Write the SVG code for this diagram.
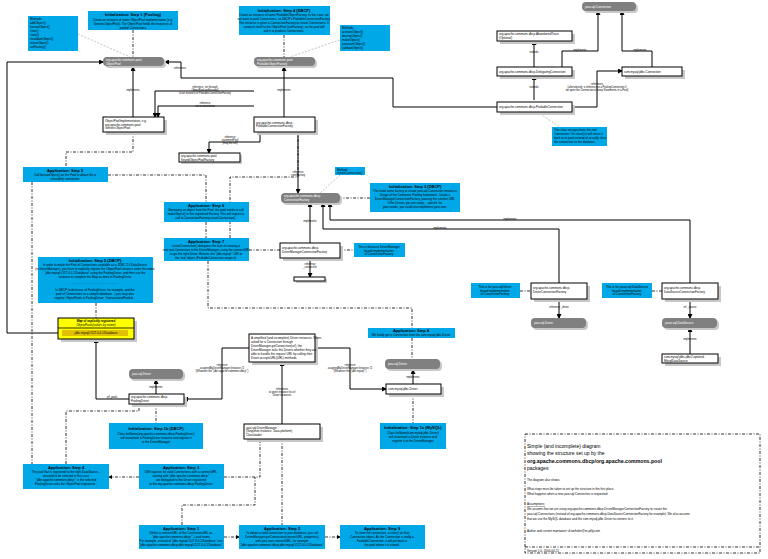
<svg xmlns="http://www.w3.org/2000/svg" width="768" height="559" viewBox="0 0 768 559">
<style>
text{font-family:"Liberation Sans",Arial,sans-serif;fill:#000}
.c{fill:#00a8e8}
.g{fill:#808080;stroke:none}
.gs{fill:#c8c8c8}
.b{fill:#fff;stroke:#000;stroke-width:1}
.ln{fill:none;stroke:#000;stroke-width:1}
.d{fill:none;stroke:#000;stroke-width:0.8;stroke-dasharray:3,1.5,1,1.5}
.n{fill:none;stroke:#888;stroke-width:0.5;stroke-dasharray:2,1.5}
.t{font-size:3px}
.h{font-size:4px;font-weight:bold}
.w{font-size:3px;fill:#fff}
.l{font-size:2.6px;text-anchor:middle}
.m{text-anchor:middle}
</style>
<defs>
<marker id="a" markerWidth="5" markerHeight="5" refX="4" refY="2.5" orient="auto"><path d="M0,0L5,2.5L0,5z" fill="#000"/></marker>
</defs>
<rect width="768" height="559" fill="#fff"/>
<g id="connectors">
<path class="ln" d="M7,333V62H103" marker-end="url(#a)"/>
<path class="ln" d="M7,333H58"/>
<path class="ln" d="M133,117V67" marker-end="url(#a)"/>
<path class="ln" d="M284,117V67" marker-end="url(#a)"/>
<path class="ln" d="M497,107H393V78H181V62H165" marker-end="url(#a)"/>
<path class="ln" d="M254,91H155V117" marker-end="url(#a)"/>
<path class="ln" d="M254,106H158V117" marker-end="url(#a)"/>
<path class="ln" d="M260,132V142H209V153" marker-end="url(#a)"/>
<path class="ln" d="M298,132V193" marker-end="url(#a)"/>
<path class="ln" d="M534,100V76" marker-end="url(#a)"/>
<path class="ln" d="M534,67V41" marker-end="url(#a)"/>
<path class="ln" d="M562,67V51H598V11" marker-end="url(#a)"/>
<path class="ln" d="M652,67V51H622V11" marker-end="url(#a)"/>
<path class="ln" d="M572,107H597V71H622" marker-end="url(#a)"/>
<path class="ln" d="M310,243V203" marker-end="url(#a)"/>
<path class="ln" d="M310,258V277" marker-end="url(#a)"/>
<path class="ln" d="M690,283V220H330V203" marker-end="url(#a)"/>
<path class="ln" d="M559,283V229H323V203" marker-end="url(#a)"/>
<path class="ln" d="M559,299V318" marker-end="url(#a)"/>
<path class="ln" d="M690,299V318" marker-end="url(#a)"/>
<path class="ln" d="M690,354V328" marker-end="url(#a)"/>
<path class="ln" d="M156,394V380" marker-end="url(#a)"/>
<path class="ln" d="M413,384V370" marker-end="url(#a)"/>
<path class="ln" d="M222,369V348H249"/>
<path class="ln" d="M222,369V399H184" marker-end="url(#a)"/>
<path class="ln" d="M350,369V348H315"/>
<path class="ln" d="M350,369V389H386" marker-end="url(#a)"/>
<path class="ln" d="M282,424V362" marker-end="url(#a)"/>
<path class="ln" d="M129,399H96V339" marker-end="url(#a)"/>
<path class="n" d="M78,34L130,57"/>
<path class="n" d="M340,40L290,57"/>
<path class="n" d="M340,175L320,193"/>
<path class="n" d="M537,112L560,127"/>
<path class="d" d="M133,30V57"/>
<path class="d" d="M284,35V57"/>
<path class="d" d="M133,132V152H66V167"/>
<path class="d" d="M108,175H206V202"/>
<path class="d" d="M298,132V177H230V202"/>
<path class="d" d="M206,222V238"/>
<path class="d" d="M249,250H280"/>
<path class="d" d="M340,250H354"/>
<path class="d" d="M370,198H340"/>
<path class="d" d="M230,238V220"/>
<path class="d" d="M208,261V308H412V328"/>
<path class="d" d="M412,338V359"/>
<path class="d" d="M520,291H531"/>
<path class="d" d="M652,291H662"/>
<path class="d" d="M96,303V318"/>
<path class="d" d="M32,182V464"/>
<path class="d" d="M156,404V423"/>
<path class="d" d="M413,394V423"/>
<path class="d" d="M139,477H109" marker-end="url(#a)"/>
<path class="d" d="M66,464V411H139V404"/>
<path class="d" d="M224,477H260V439"/>
<path class="d" d="M282,439V525"/>
<path class="d" d="M224,537H239" marker-end="url(#a)"/>
<path class="d" d="M325,537H340" marker-end="url(#a)"/>
<path class="d" d="M182,525V505H255V477"/>
</g>
<g id="methods1"><rect class="c" x="28" y="16" width="50" height="35"/><text class="t" x="30" y="20">Methods:</text><text class="t" x="30" y="24">addObject()</text><text class="t" x="30" y="28">borrowObject()</text><text class="t" x="30" y="32">clear()</text><text class="t" x="30" y="36">close()</text><text class="t" x="30" y="40">invalidateObject()</text><text class="t" x="30" y="44">returnObject()</text><text class="t" x="30" y="48">setFactory()</text></g>
<g id="init1"><rect class="c" x="88" y="11" width="90" height="19"/><text class="h m" x="133" y="16">Initialization: Step 1 (Pooling)</text><text class="t m" x="133" y="21">Create an instance of some ObjectPool implementation (e.g.</text><text class="t m" x="133" y="25">GenericObjectPool). The ObjectPool holds the instances of</text><text class="t m" x="133" y="29">pooled Connections</text></g>
<g id="objectpool"><rect class="gs" x="105" y="59" width="61" height="9" rx="4"/><rect class="g" x="103" y="57" width="61" height="9" rx="4"/><text class="w" x="106" y="61">org.apache.commons.pool.</text><text class="w" x="106" y="64.5">ObjectPool</text></g>
<g id="init4"><rect class="c" x="239" y="6" width="91" height="29"/><text class="h m" x="284" y="12">Initialization: Step 4 (DBCP)</text><text class="t m" x="284" y="16">Create an instance of some PoolableObjectFactory. In this case, we</text><text class="t m" x="284" y="20">are want to pool Connections, so DBCP's PoolableConnectionFactory.</text><text class="t m" x="284" y="24">The instance is given a ConnectionFactory to create Connections. It</text><text class="t m" x="284" y="28">connects itself to the ObjectPool (setFactory), so the pool will</text><text class="t m" x="284" y="32">ask it to produce Connections.</text></g>
<g id="methods2"><rect class="c" x="340" y="25" width="50" height="26"/><text class="t" x="342" y="29">Methods:</text><text class="t" x="342" y="33">activateObject()</text><text class="t" x="342" y="37">destroyObject()</text><text class="t" x="342" y="41">makeObject()</text><text class="t" x="342" y="45">passivateObject()</text><text class="t" x="342" y="49">validateObject()</text></g>
<g id="poolableobjectfactory"><rect class="gs" x="256" y="59" width="61" height="9" rx="4"/><rect class="g" x="254" y="57" width="61" height="9" rx="4"/><text class="w" x="257" y="61">org.apache.commons.pool.</text><text class="w" x="257" y="64.5">PoolableObjectFactory</text></g>
<g id="genericobjectpool"><rect class="gs" x="106" y="120" width="61" height="15"/><rect class="b" x="103" y="117" width="61" height="15"/><text class="t" x="105" y="122">ObjectPoolImplementation, e.g.</text><text class="t" x="105" y="125.5">org.apache.commons.pool.</text><text class="t" x="105" y="129">GenericObjectPool</text></g>
<g id="poolableconnectionfactory"><rect class="gs" x="257" y="120" width="61" height="15"/><rect class="b" x="254" y="117" width="61" height="15"/><text class="t" x="256" y="123.5">org.apache.commons.dbcp.</text><text class="t" x="256" y="127">PoolableConnectionFactory</text></g>
<g id="keyedfactory"><rect class="gs" x="181" y="155" width="61" height="9"/><rect class="b" x="179" y="153" width="61" height="9"/><text class="t" x="181" y="157">org.apache.commons.pool.</text><text class="t" x="181" y="160.5">KeyedObjectPoolFactory</text></g>
<g id="labels"><text class="l" x="133" y="91">implements</text><text class="l" x="284" y="91">implements</text><text class="l" x="180" y="69">references</text><text class="l" x="205" y="88">reference, set through</text><text class="l" x="205" y="91">ObjectPool.setFactory()</text><text class="l" x="205" y="94">to an instance of PoolableConnectionFactory</text><text class="l" x="205" y="104">reference</text><text class="l" x="205" y="107">set in constructor</text><text class="l" x="230" y="138">reference</text><text class="l" x="230" y="141">statementPool</text><text class="l" x="230" y="144">(may be null)</text><text class="l" x="298" y="173">reference</text><text class="l" x="298" y="176">connFactory</text><text class="l" x="534" y="53">extends</text><text class="l" x="534" y="88">extends</text><text class="l" x="580" y="51">implements</text><text class="l" x="640" y="51">implements</text><text class="l" x="597" y="85">references</text><text class="l" x="597" y="88">(alternatively: a reference to a PoolingConnection if</text><text class="l" x="597" y="91">we open the Connection to keep Statements in a Pool)</text><text class="l" x="310" y="222">implements</text><text class="l" x="440" y="229">implements</text><text class="l" x="510" y="220">implements</text><text class="l" x="310" y="265">reference</text><text class="l" x="310" y="268">_connectUri</text><text class="l" x="559" y="308">reference _driver</text><text class="l" x="690" y="308">ref _source</text><text class="l" x="690" y="340">implements</text><text class="l" x="156" y="388">implements</text><text class="l" x="413" y="378">implements</text><text class="l" x="112" y="398">ref_pools</text><text class="l" x="222" y="366">reference</text><text class="l" x="222" y="369">assignedByDriverManager.Instance #1</text><text class="l" x="222" y="372">(Whatever the "jdbc:apache:commons:dbcp:")</text><text class="l" x="350" y="366">reference</text><text class="l" x="350" y="369">assignedByDriverManager.Instance #2</text><text class="l" x="350" y="372">(Whatever the "jdbc:mysql:")</text><text class="l" x="282" y="390">references</text><text class="l" x="282" y="393">to given instance list of</text><text class="l" x="282" y="396">Driver instances</text></g>
<g id="connection"><rect class="gs" x="584" y="4" width="54" height="9" rx="4"/><rect class="g" x="582" y="2" width="54" height="9" rx="4"/><text class="w" x="585" y="7.5">java.sql.Connection</text></g>
<g id="abandonedtrace"><rect class="gs" x="500" y="34" width="75" height="10"/><rect class="b" x="497" y="31" width="75" height="10"/><text class="t" x="499" y="35">org.apache.commons.dbcp.AbandonedTrace</text><text class="t" x="499" y="38.5">(Optional)</text></g>
<g id="delegatingconnection"><rect class="gs" x="500" y="70" width="75" height="9"/><rect class="b" x="497" y="67" width="75" height="9"/><text class="t" x="499" y="72.5">org.apache.commons.dbcp.DelegatingConnection</text></g>
<g id="poolableconnection"><rect class="gs" x="500" y="105" width="75" height="10"/><rect class="b" x="497" y="102" width="75" height="10"/><text class="t" x="499" y="107.5">org.apache.commons.dbcp.PoolableConnection</text></g>
<g id="mysqlconnection"><rect class="gs" x="625" y="70" width="60" height="9"/><rect class="b" x="622" y="67" width="60" height="9"/><text class="t" x="624" y="72.5">com.mysql.jdbc.Connection</text></g>
<g id="note1"><rect class="c" x="552" y="127" width="55" height="19"/><text class="t" x="554" y="131">This class encapsulates the real</text><text class="t" x="554" y="135">Connection. On close() it will return it</text><text class="t" x="554" y="139">back to its pool instead of actually close</text><text class="t" x="554" y="143">the connection to the database</text></g>
<g id="appstep1a"><rect class="c" x="23" y="167" width="85" height="15"/><text class="h m" x="65" y="172">Application: Step 5</text><text class="t m" x="65" y="176">Call borrowObject() on the Pool to obtain the a</text><text class="t m" x="65" y="180">(reusable) connection</text></g>
<g id="methods3"><rect class="c" x="335" y="167" width="30" height="8"/><text class="t" x="337" y="170.5">Method:</text><text class="t" x="337" y="174">createConnection()</text></g>
<g id="connectionfactory"><rect class="gs" x="283" y="195" width="59" height="10" rx="4"/><rect class="g" x="281" y="193" width="59" height="10" rx="4"/><text class="w" x="284" y="197">org.apache.commons.dbcp.</text><text class="w" x="284" y="201">ConnectionFactory</text></g>
<g id="init3"><rect class="c" x="370" y="183" width="90" height="29"/><text class="h m" x="415" y="188">Initialization: Step 3 (DBCP)</text><text class="t m" x="415" y="192">The initial some factory to create java.sql.Connection instances</text><text class="t m" x="415" y="196">Usage of the Commons Pooling framework. Create a</text><text class="t m" x="415" y="200">DriverManagerConnectionFactory, passing the connect URI.</text><text class="t m" x="415" y="204">If the Drivers you are using ... specific for</text><text class="t m" x="415" y="208">your needs, you could also implement your own.</text></g>
<g id="appstep6"><rect class="c" x="164" y="202" width="85" height="20"/><text class="h m" x="206" y="207">Application: Step 6</text><text class="t m" x="206" y="211">Borrowing an object from the Pool, the pool needs to call</text><text class="t m" x="206" y="215">makeObject() in the registered Factory. This will request a</text><text class="t m" x="206" y="219">call to ConnectionFactory.createConnection().</text></g>
<g id="appstep7"><rect class="c" x="164" y="238" width="85" height="23"/><text class="h m" x="206" y="243">Application: Step 7</text><text class="t m" x="206" y="247">createConnection() delegates the task of creating a</text><text class="t m" x="206" y="251">new real Connection to the DriverManager, using the connectURI</text><text class="t m" x="206" y="255">to get the right Driver. Returns the "jdbc:mysql:" URI to</text><text class="t m" x="206" y="259">the 'real' object (PoolableConnection wraps it).</text></g>
<g id="dmconnectionfactory"><rect class="gs" x="283" y="246" width="60" height="15"/><rect class="b" x="280" y="243" width="60" height="15"/><text class="t" x="282" y="249">org.apache.commons.dbcp.</text><text class="t" x="282" y="252.5">DriverManagerConnectionFactory</text></g>
<g id="note2"><rect class="c" x="354" y="243" width="51" height="14"/><text class="t m" x="379" y="248">This is because DriverManager</text><text class="t m" x="379" y="251.5">based implementation</text><text class="t m" x="379" y="255">of ConnectionFactory</text></g>
<g id="uribox"><rect class="gs" x="296" y="279" width="31" height="4"/><rect class="b" x="294" y="277" width="31" height="4"/></g>
<g id="init5"><rect class="c" x="38" y="257" width="115" height="46"/><text class="h m" x="95" y="262">Initialization: Step 5 (DBCP)</text><text class="t m" x="95" y="266">In order to make the Pool of Connections available as a JDBC 2.0 DataSource</text><text class="t m" x="95" y="270">(in DriverManager), you have to explicitly register the ObjectPool instance under the name</text><text class="t m" x="95" y="274">"jdbc:mysql://127.0.0.1/Database" using the PoolingDriver, and then use the</text><text class="t m" x="95" y="278">instance to complete the Map as done in PoolingDriver</text><text class="t m" x="95" y="284">- - - - - - - - - - - - - - - - - - - - - - - - - -</text><text class="t m" x="95" y="291">In DBCP (subclasses of PoolingDriver, for example, and the</text><text class="t m" x="95" y="295">pool of Connections to a sample database...) you may also</text><text class="t m" x="95" y="299">register ObjectPools in PoolingDriver: TransactionalPooled...</text></g>
<g id="mapbox"><rect class="gs" x="61" y="321" width="76" height="21"/><rect x="58" y="318" width="76" height="21" fill="#ffff00" stroke="#000" stroke-width="1"/><line x1="58" y1="328" x2="134" y2="328" stroke="#000" stroke-width="0.8"/><rect x="62" y="330" width="66" height="6" fill="#e0c000"/><text class="t m" x="96" y="322" font-style="italic" font-weight="bold">Map of explicitly registered</text><text class="t m" x="96" y="325.5" font-style="italic">ObjectPools(values by name)</text><text class="t m" x="96" y="334">jdbc:mysql://127.0.0.1/Database</text></g>
<g id="appstep8"><rect class="c" x="368" y="328" width="87" height="10"/><text class="h m" x="411" y="332">Application: Step 8</text><text class="t m" x="411" y="336">We finally get a Connection from the com.mysql.jdbc.Driver</text></g>
<g id="driverconnectionfactory"><rect class="gs" x="534" y="286" width="56" height="16"/><rect class="b" x="531" y="283" width="56" height="16"/><text class="t" x="533" y="289">org.apache.commons.dbcp.</text><text class="t" x="533" y="292.5">DriverConnectionFactory</text></g>
<g id="note3"><rect class="c" x="471" y="283" width="49" height="15"/><text class="t m" x="495" y="288">This is for java.sql.Driver</text><text class="t m" x="495" y="291.5">based implementation</text><text class="t m" x="495" y="295">of ConnectionFactory</text></g>
<g id="driver1"><rect class="gs" x="533" y="320" width="55" height="10" rx="4"/><rect class="g" x="531" y="318" width="55" height="10" rx="4"/><text class="w" x="534" y="324">java.sql.Driver</text></g>
<g id="dsconnectionfactory"><rect class="gs" x="665" y="286" width="56" height="16"/><rect class="b" x="662" y="283" width="56" height="16"/><text class="t" x="664" y="289">org.apache.commons.dbcp.</text><text class="t" x="664" y="292.5">DataSourceConnectionFactory</text></g>
<g id="note4"><rect class="c" x="602" y="283" width="50" height="15"/><text class="t m" x="627" y="288">This is for javax.sql.DataSource</text><text class="t m" x="627" y="291.5">based implementation</text><text class="t m" x="627" y="295">of ConnectionFactory</text></g>
<g id="datasource"><rect class="gs" x="664" y="320" width="55" height="10" rx="4"/><rect class="g" x="662" y="318" width="55" height="10" rx="4"/><text class="w" x="665" y="324">javax.sql.DataSource</text></g>
<g id="mysqldatasource"><rect class="gs" x="665" y="357" width="56" height="9"/><rect class="b" x="662" y="354" width="56" height="9"/><text class="t" x="664" y="358">com.mysql.jdbc.jdbc2.optional.</text><text class="t" x="664" y="361.5">MysqlDataSource</text></g>
<g id="dmnote"><rect class="gs" x="252" y="337" width="66" height="28"/><rect class="b" x="249" y="334" width="66" height="28"/><text class="t" x="251" y="339">A simplified (and incomplete) Driver instances. When</text><text class="t" x="251" y="343">asked for a Connection through</text><text class="t" x="251" y="347">DriverManager.getConnection(url), the</text><text class="t" x="251" y="351">DriverManager asks the Drivers whether they are</text><text class="t" x="251" y="355">able to handle the request URL by calling their</text><text class="t" x="251" y="359">Driver.acceptsURL(URL) methods.</text></g>
<g id="driver2"><rect class="gs" x="387" y="361" width="55" height="10" rx="4"/><rect class="g" x="385" y="359" width="55" height="10" rx="4"/><text class="w" x="388" y="365">java.sql.Driver</text></g>
<g id="mysqldriver"><rect class="gs" x="389" y="387" width="55" height="10"/><rect class="b" x="386" y="384" width="55" height="10"/><text class="t" x="388" y="390">com.mysql.jdbc.Driver</text></g>
<g id="init1c"><rect class="c" x="380" y="423" width="66" height="26"/><text class="h m" x="413" y="429">Initialization: Step 1c (MySQL)</text><text class="t m" x="413" y="434">Class.forName(com.mysql.jdbc.Driver)</text><text class="t m" x="413" y="438">will instantiate a Driver instance and</text><text class="t m" x="413" y="442">register it at the DriverManager</text></g>
<g id="driver3"><rect class="gs" x="131" y="371" width="54" height="10" rx="4"/><rect class="g" x="129" y="369" width="54" height="10" rx="4"/><text class="w" x="132" y="375">java.sql.Driver</text></g>
<g id="poolingdriver"><rect class="gs" x="132" y="397" width="55" height="10"/><rect class="b" x="129" y="394" width="55" height="10"/><text class="t" x="131" y="398">org.apache.commons.dbcp.</text><text class="t" x="131" y="401.5">PoolingDriver</text></g>
<g id="init1b"><rect class="c" x="109" y="423" width="94" height="26"/><text class="h m" x="156" y="430">Initialization: Step 1b (DBCP)</text><text class="t m" x="156" y="435">Class.forName(org.apache.commons.dbcp.PoolingDriver)</text><text class="t m" x="156" y="439">will instantiate a PoolingDriver instance and register it</text><text class="t m" x="156" y="443">at the DriverManager</text></g>
<g id="drivermanager"><rect class="gs" x="247" y="427" width="76" height="15"/><rect class="b" x="244" y="424" width="76" height="15"/><text class="t" x="246" y="428.5">java.sql.DriverManager</text><text class="t" x="246" y="432">(Singleton instance, Java-platform)</text><text class="t" x="246" y="435.5">Classloader</text></g>
<g id="appstep4"><rect class="c" x="23" y="464" width="86" height="25"/><text class="h m" x="66" y="469">Application: Step 4</text><text class="t m" x="66" y="473">The pool that is registered to the right DataSource...</text><text class="t m" x="66" y="477">ensured to be selected in this case</text><text class="t m" x="66" y="481">"jdbc:apache:commons:dbcp:" is the selected</text><text class="t m" x="66" y="485">PoolingDriver asks the ObjectPool registered...</text></g>
<g id="appstep3"><rect class="c" x="139" y="464" width="85" height="25"/><text class="h m" x="181" y="469">Application: Step 3</text><text class="t m" x="181" y="473">DM requests for valid Connections with a connectURL</text><text class="t m" x="181" y="477">starting with "jdbc:apache:commons:dbcp:"</text><text class="t m" x="181" y="481">are delegated to the Driver registered</text><text class="t m" x="181" y="485">to the org.apache.commons.dbcp.PoolingDriver</text></g>
<g id="appstep1"><rect class="c" x="139" y="525" width="85" height="24"/><text class="h m" x="181" y="530">Application: Step 1</text><text class="t m" x="181" y="534">Define a connectURL of the ConnectionURL as</text><text class="t m" x="181" y="538">"jdbc:apache:commons:dbcp:" + pool name</text><text class="t m" x="181" y="542">For example, instead of "jdbc:mysql://127.0.0.1/Database" use</text><text class="t m" x="181" y="546">"jdbc:apache:commons:dbcp:jdbc:mysql://127.0.0.1/Database"</text></g>
<g id="appstep2"><rect class="c" x="239" y="525" width="86" height="24"/><text class="h m" x="282" y="530">Application: Step 2</text><text class="t m" x="282" y="534">To obtain a valid connection to your database, you call</text><text class="t m" x="282" y="538">DriverManager.getConnection(connectURL, properties)</text><text class="t m" x="282" y="542">with your own connectURL, for example</text><text class="t m" x="282" y="546">"jdbc:apache:commons:dbcp:jdbc:mysql://127.0.0.1/Database"</text></g>
<g id="appstep5"><rect class="c" x="340" y="525" width="85" height="24"/><text class="h m" x="382" y="530">Application: Step 9</text><text class="t m" x="382" y="534">To close the connection, a close() on that</text><text class="t m" x="382" y="538">Connection object. As the Connection is really a</text><text class="t m" x="382" y="542">PoolableConnection, it will put back in</text><text class="t m" x="382" y="546">the pool where it is stored.</text></g>
<g id="legend"><rect x="525" y="434" width="235" height="119" fill="#fff" stroke="#000" stroke-width="0.8" stroke-dasharray="3,1.5,1,1.5"/><line x1="525" y1="547" x2="760" y2="547" stroke="#000" stroke-width="0.8" stroke-dasharray="3,1.5,1,1.5"/><text x="527" y="448" font-size="5">Simple (and incomplete) diagram</text><text x="527" y="455" font-size="5">showing the structure set up by the</text><text x="527" y="463" font-size="5.2" font-weight="bold">org.apache.commons.dbcp/org.apache.commons.pool</text><text x="527" y="470" font-size="5">packages</text><text class="t" x="527" y="481">The diagram also shows:</text><text class="t" x="527" y="490">What steps must be taken to set up the structure in the first place.</text><text class="t" x="527" y="495">What happens when a new java.sql.Connection is requested</text><text class="t" x="527" y="505" text-decoration="underline">Assumptions:</text><text class="t" x="527" y="510">We assume that we are using org.apache.commons.dbcp.DriverManagerConnectionFactory to create the</text><text class="t" x="527" y="515">java.sql.Connections (instead of org.apache.commons.dbcp.DataSourceConnectionFactory for example). We also assume</text><text class="t" x="527" y="520">that we use the MySQL database and the com.mysql.jdbc.Driver to connect to it.</text><text class="t" x="527" y="532">Author and current maintainer: d.tonhofer@m-plify.com</text><text class="t" x="527" y="552">Version 1.0, 2004-04-11</text></g>
</svg>
